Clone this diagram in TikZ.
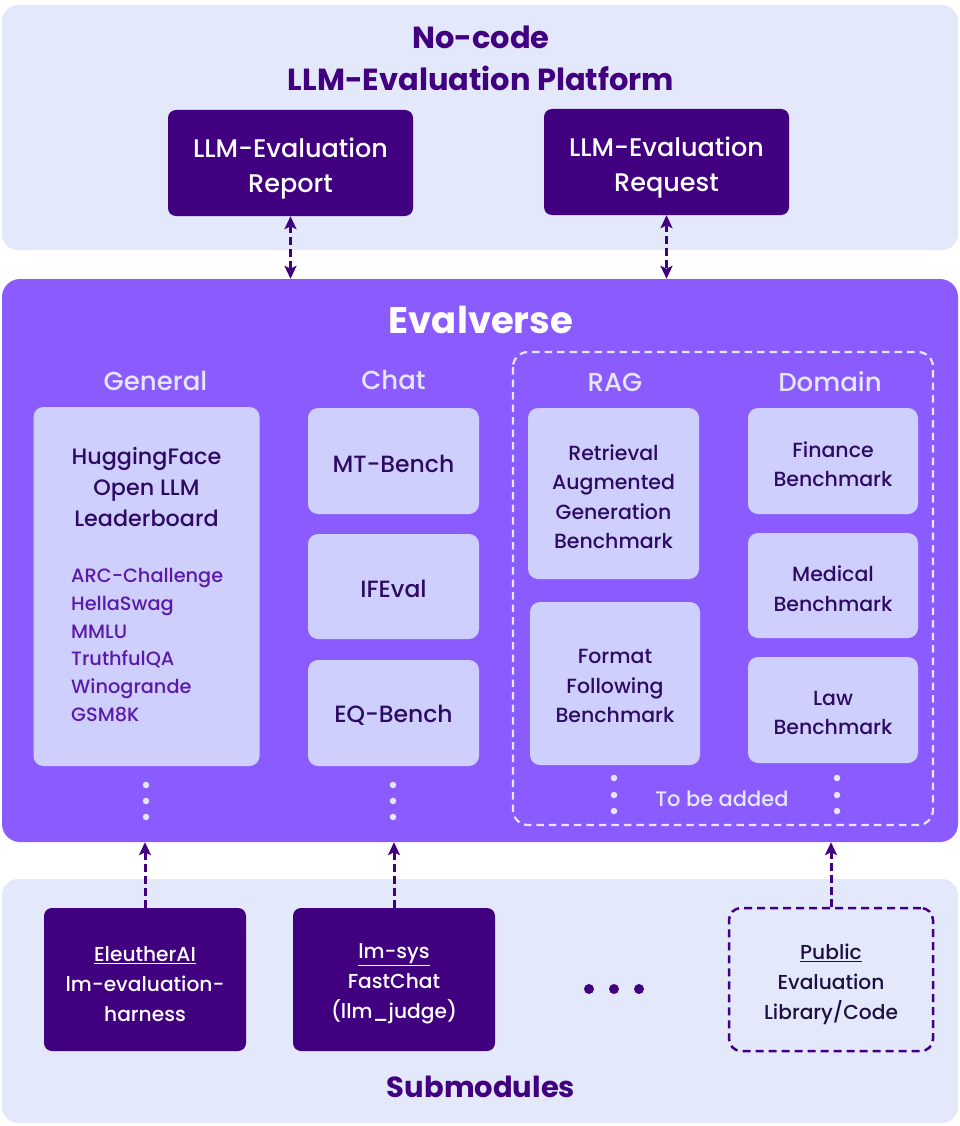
\documentclass[tikz,border=0pt]{standalone}
\usepackage{fontspec}
\setmainfont{Poppins}[UprightFont={* Medium}, BoldFont={* Bold}]
\usetikzlibrary{arrows.meta}
\definecolor{panel}{HTML}{E4E8FB}
\definecolor{dark}{HTML}{40007F}
\definecolor{violet}{HTML}{8A5CFF}
\definecolor{inner}{HTML}{CFCFFE}
\definecolor{innertext}{HTML}{2D0B63}
\definecolor{listtext}{HTML}{5B1AA8}
\definecolor{headtext}{HTML}{E6E6FC}
\definecolor{pubtext}{HTML}{1E1040}
\tikzset{
  panelbox/.style={fill=panel, draw=none, rounded corners=16pt, inner sep=0pt},
  darkbox/.style={fill=dark, draw=none, rounded corners=8pt, inner sep=0pt, minimum width=245pt, minimum height=106pt},
  subbox/.style={fill=dark, draw=none, rounded corners=8pt, inner sep=0pt, minimum width=202pt, minimum height=143pt},
  inbox/.style={fill=inner, draw=none, rounded corners=10pt, inner sep=0pt},
  whitetext/.style={text=white, align=center, font=\fontsize{25.5}{35}\selectfont},
  subtext/.style={text=white, align=center, font=\fontsize{20.2}{30}\selectfont},
  intext/.style={text=innertext, align=center, font=\fontsize{20.5}{29.5}\selectfont},
  chattext/.style={text=innertext, align=center, font=\fontsize{23.5}{29.5}\selectfont},
  headlabel/.style={text=headtext, font=\fontsize{26}{30}\selectfont},
  arr/.style={draw=dark, line width=3pt, dash pattern=on 8pt off 4pt, {Stealth[length=13pt,width=12pt,inset=3pt]}-{Stealth[length=13pt,width=12pt,inset=3pt]}},
  uparr/.style={draw=dark, line width=3pt, dash pattern=on 8pt off 4pt, -{Stealth[length=13pt,width=12pt,inset=3pt]}},
  ldot/.style={fill=headtext, draw=none, circle, inner sep=0pt, minimum size=6.5pt},
  ddot/.style={fill=dark, draw=none, circle, inner sep=0pt, minimum size=10pt},
}
\begin{document}
\begin{tikzpicture}[x=1pt,y=-1pt]
\useasboundingbox (0,0) rectangle (960,1126);
% panels
\node[panelbox, minimum width=956pt, minimum height=245pt] (top) at (480,127.5) {};
\node[panelbox, fill=violet, rounded corners=18pt, minimum width=956pt, minimum height=563pt] (ev) at (480,560.5) {};
\node[panelbox, minimum width=956pt, minimum height=244pt] (bot) at (480,1001) {};

% top
\node[text=dark, align=center, font=\fontsize{30.5}{42}\bfseries\selectfont] (title) at (481,58) {No-code\\LLM-Evaluation Platform};
\node[darkbox] (report) at (290.5,163) {};
\node[whitetext] (reportt) at (290.5,168.5) {LLM-Evaluation\\Report};
\node[darkbox] (request) at (666.5,162) {};
\node[whitetext] (requestt) at (666.5,168) {LLM-Evaluation\\Request};
\draw[arr] (report.south) -- (report.south |- ev.north);
\draw[arr] (request.south) -- (request.south |- ev.north);

% evalverse
\node[text=white, font=\fontsize{37}{40}\bfseries\selectfont] (evt) at (481,320) {Evalverse};
\node[headlabel] (gen) at (155.5,381) {General};
\node[headlabel] (chat) at (393.5,380) {Chat};
\node[headlabel] (rag) at (615,382) {RAG};
\node[headlabel] (dom) at (830,382) {Domain};

\node[inbox, minimum width=226pt, minimum height=359pt] (general) at (146.5,586.5) {};
\node[intext, font=\fontsize{22.3}{31}\selectfont] (hf) at (146.5,487) {HuggingFace\\Open LLM\\Leaderboard};
\node[text=listtext, align=left, anchor=west, font=\fontsize{19.3}{27.8}\selectfont, inner sep=0pt] (list) at (71,645) {ARC-Challenge\\HellaSwag\\MMLU\\TruthfulQA\\Winogrande\\GSM8K};

\node[inbox, minimum width=171pt, minimum height=106pt] (mt) at (393.5,461) {};
\node[chattext] (mtt) at (393.5,464) {MT-Bench};
\node[inbox, minimum width=171pt, minimum height=105pt] (ife) at (393.5,586.5) {};
\node[chattext] (ifet) at (393.5,589) {IFEval};
\node[inbox, minimum width=171pt, minimum height=106pt] (eq) at (393.5,713) {};
\node[chattext] (eqt) at (393.5,715) {EQ-Bench};

\draw[draw=headtext, line width=2.2pt, dash pattern=on 7.5pt off 5pt, rounded corners=15pt] (513,352) rectangle (933,825);
\node[inbox, minimum width=171pt, minimum height=171pt] (rag1) at (613.5,493.5) {};
\node[intext] (rag1t) at (613.5,496.5) {Retrieval\\Augmented\\Generation\\Benchmark};
\node[inbox, minimum width=170pt, minimum height=163pt] (rag2) at (615,683.5) {};
\node[intext] (rag2t) at (615,686) {Format\\Following\\Benchmark};
\node[inbox, minimum width=170pt, minimum height=106pt] (fin) at (833,461) {};
\node[intext] (fint) at (833,464) {Finance\\Benchmark};
\node[inbox, minimum width=170pt, minimum height=105pt] (med) at (833,585.5) {};
\node[intext] (medt) at (833,588.5) {Medical\\Benchmark};
\node[inbox, minimum width=170pt, minimum height=106pt] (law) at (833,710) {};
\node[intext] (lawt) at (833,713) {Law\\Benchmark};
\node[text=headtext, font=\fontsize{21}{24}\selectfont] (tba) at (722,799) {To be added};

\foreach \x/\n in {146/g,393/c}{
  \node[ldot] (\n1) at (\x,785) {};
  \node[ldot] (\n2) at (\x,801) {};
  \node[ldot] (\n3) at (\x,817) {};
}
\foreach \x/\n in {614/r,837/d}{
  \node[ldot] (\n1) at (\x,778) {};
  \node[ldot] (\n2) at (\x,795) {};
  \node[ldot] (\n3) at (\x,811) {};
}

% bottom
\node[subbox] (eleu) at (145,979.5) {};
\node[subtext] (eleut) at (145,984) {\underline{EleutherAI}\\lm-evaluation-\\harness};
\node[subbox] (lmsys) at (394,979.5) {};
\node[subtext] (lmsyst) at (394,984) {\underline{lm-sys}\\FastChat\\(llm\_judge)};
\node[subbox, fill=panel, draw=dark, line width=2.5pt, dash pattern=on 8pt off 5pt, rounded corners=12pt, minimum width=204pt] (pub) at (831,979.5) {};
\node[subtext, text=pubtext] (pubt) at (831,984) {\underline{Public}\\Evaluation\\Library/Code};
\node[ddot] (d1) at (589,989) {};
\node[ddot] (d2) at (614,989) {};
\node[ddot] (d3) at (639,989) {};
\node[text=dark, font=\fontsize{29}{30}\bfseries\selectfont] (subm) at (481,1087) {Submodules};

\draw[uparr] (eleu.north) -- (eleu.north |- ev.south);
\draw[uparr] (lmsys.north) -- (lmsys.north |- ev.south);
\draw[uparr] (pub.north) -- (pub.north |- ev.south);
\end{tikzpicture}
\end{document}
